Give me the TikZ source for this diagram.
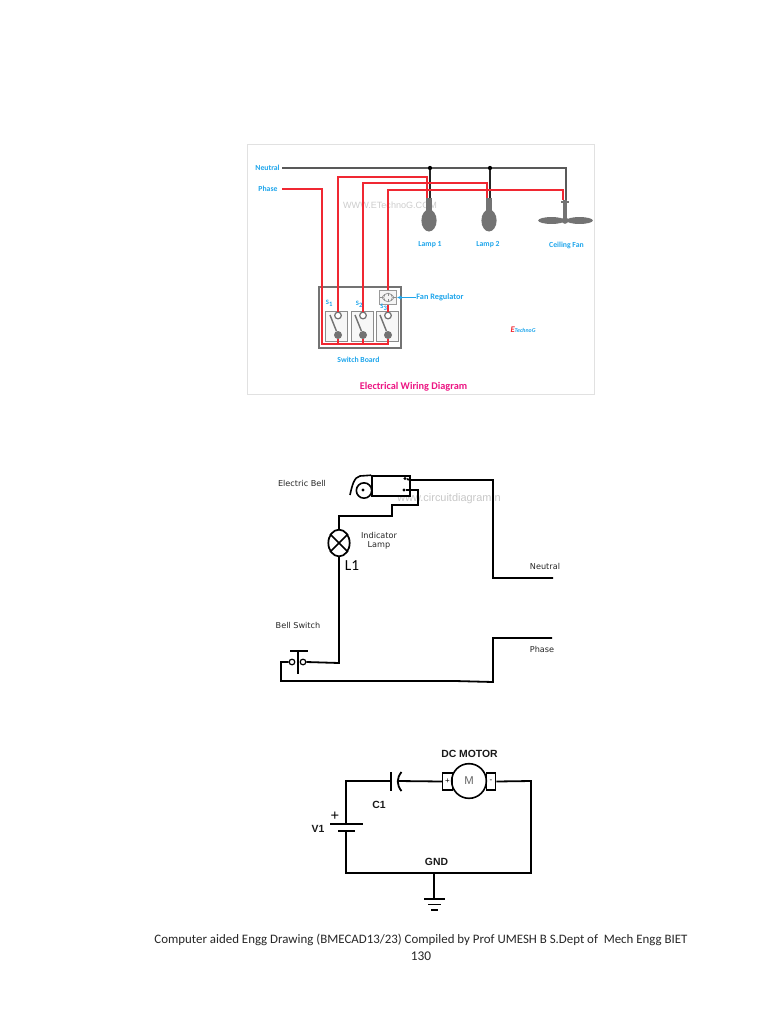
\documentclass[tikz,border=0pt]{standalone}
\usepackage{fontspec}
\setmainfont{Carlito}
\newfontfamily\arialfont{Liberation Sans}
\newfontfamily\dejafont{DejaVu Sans}
\usetikzlibrary{arrows.meta,shapes.geometric}
\definecolor{wirered}{RGB}{240,40,50}
\definecolor{tagblue}{RGB}{30,165,235}
\definecolor{bodygray}{RGB}{115,115,115}
\definecolor{titlepink}{RGB}{236,20,130}
\definecolor{framegray}{RGB}{225,225,225}
\tikzset{
  redwire/.style={draw=wirered,line width=1.05pt},
  blackwire/.style={draw=black!85,line width=1.3pt},
  thickwire/.style={draw=black,line width=1.35pt},
  tag/.style={text=tagblue,font=\fontsize{5.8}{6}\selectfont\bfseries,inner sep=0pt},
  subtag/.style={text=tagblue,font=\fontsize{5}{6}\selectfont\bfseries,inner sep=0pt},
  plain/.style={text=black!85,font=\dejafont\fontsize{6.1}{8}\selectfont,inner sep=0pt},
  motortext/.style={text=black!90,font=\arialfont\fontsize{7.8}{9}\selectfont\bfseries,inner sep=0pt},
  lampbody/.style={shape=ellipse,fill=bodygray,inner sep=0pt,minimum width=11.4pt,minimum height=16.5pt},
  bladebody/.style={shape=ellipse,fill=bodygray,inner sep=0pt,minimum width=20pt,minimum height=5.2pt},
  switchbox/.style={draw=black!45,fill=black!3,line width=0.7pt,minimum width=16pt,minimum height=22.5pt,inner sep=0pt},
  post/.style={circle,draw=bodygray,fill=white,line width=0.9pt,minimum size=5pt,inner sep=0pt},
  pivot/.style={circle,fill=bodygray,minimum size=6pt,inner sep=0pt},
  dotnode/.style={circle,fill=black,minimum size=3.2pt,inner sep=0pt},
  contact/.style={circle,draw=black,fill=white,line width=0.9pt,minimum size=4.2pt,inner sep=0pt},
  boxterm/.style={draw=black,line width=1pt,minimum width=7.2pt,minimum height=12.8pt,inner sep=0pt}
}
\begin{document}
\begin{tikzpicture}[x=0.75pt,y=-0.75pt]
\useasboundingbox (0,0) rectangle (768,1024);
% wiring diagram
\draw [framegray,line width=0.65pt] (247,144) rectangle (594,394);
\node [text=black!20,font=\arialfont\fontsize{6.8}{8}\selectfont,inner sep=0pt] (mark1) at (390,205) {WWW.ETechnoG.COM};
\node [tag] (neutraltag) at (267.5,168) {Neutral};
\node [tag] (phasetag) at (268,188.5) {Phase};
\coordinate (neutralin) at (282,168);
\coordinate (phasein) at (282,189);
\node [dotnode] (dot1) at (430,168) {};
\node [dotnode] (dot2) at (490,168) {};
% lamps and fan
\fill [bodygray] (426,198) rectangle (432,214);
\fill [bodygray] (486,198) rectangle (492,214);
\node [lampbody] (lamp1) at (429,220.5) {};
\node [lampbody] (lamp2) at (489,220.5) {};
\coordinate (lamp1n) at (430,198);
\coordinate (lamp2n) at (490,198);
\coordinate (lamp1p) at (427,198);
\coordinate (lamp2p) at (487,198);
\fill [bodygray] (563,200) rectangle (567,221);
\fill [bodygray] (561,200.5) rectangle (569,203);
\node [bladebody] (blade1) at (551.5,220.5) {};
\node [bladebody] (blade2) at (579.5,220.5) {};
\node [circle,fill=bodygray,minimum size=5pt,inner sep=0pt] (hub) at (565,220.5) {};
\coordinate (fann) at (566,200);
\coordinate (fanp) at (563,200);
\node [tag] (lamp1tag) at (430,245) {Lamp 1};
\node [tag] (lamp2tag) at (488,245) {Lamp 2};
\node [tag] (fantag) at (566.5,245) {Ceiling Fan};
% switch board
\draw [bodygray,line width=1.3pt,fill=white] (319,287) rectangle (401,348);
\node [switchbox] (box1) at (336.5,326) {};
\node [switchbox] (box2) at (362.5,326) {};
\node [switchbox] (box3) at (387.5,326) {};
\node [draw=black!40,fill=black!4,line width=0.9pt,minimum width=12.5pt,minimum height=10pt,inner sep=0pt] (regbox) at (388,297.5) {};
\node [circle,draw=black!45,line width=0.5pt,minimum size=6.5pt,inner sep=0pt] (regsun) at (388,297.5) {};
\foreach \a in {0,45,...,315}
  \draw [black!45,line width=0.4pt] (regsun.\a) -- ++(\a:3.5);
\foreach \n/\x in {1/338,2/363,3/388} {
  \node [post] (top\n) at (\x,315.5) {};
  \node [pivot] (piv\n) at (\x,335) {};
  \draw [bodygray,line width=1.1pt] (piv\n) -- (\x-8,315);
}
\node [subtag] (s1tag) at (329.5,303.5) {S\textsubscript{1}};
\node [subtag] (s2tag) at (359.5,304) {S\textsubscript{2}};
\node [subtag] (s3tag) at (384,307.5) {S\textsubscript{3}};
\node [tag,font=\fontsize{6.2}{7}\selectfont\bfseries] (regtag) at (440,297.5) {Fan Regulator};
\draw [draw=tagblue,line width=1pt,-{Latex[length=3.4pt,width=3.4pt]}] (regtag.west) -- (regbox.east);
\node [tag] (boardtag) at (358.5,360) {Switch Board};
\node [text=titlepink,font=\fontsize{7.7}{9}\selectfont\bfseries,inner sep=0pt] (walltitle) at (413.5,387) {Electrical Wiring Diagram};
\node [text=tagblue,font=\fontsize{4.4}{5}\selectfont\bfseries\itshape,inner sep=0pt] (brand) at (523,330) {\textcolor{wirered}{\fontsize{6.5}{6}\selectfont E}TechnoG};
% wires
\draw [blackwire,draw=black!65] (neutralin) -- (dot1) -- (dot2) -- (fann |- dot1) -- (fann);
\draw [blackwire] (dot1) -- (lamp1n);
\draw [blackwire] (dot2) -- (lamp2n);
\draw [redwire] (phasein) -- (322,189) -- (322,344) -- (388,344) -- (piv3);
\draw [redwire] (piv1) -- (338,344);
\draw [redwire] (piv2) -- (363,344);
\draw [redwire] (top1) -- (338,177) -| (lamp1p);
\draw [redwire] (top2) -- (363,183) -| (lamp2p);
\draw [redwire] (regbox.north) -- (388,190) -| (fanp);
\draw [redwire] (regbox.south) -- (top3);
% bell circuit
\node [text=black!22,font=\arialfont\fontsize{8.2}{9}\selectfont,inner sep=0pt] (mark2) at (449,499) {www.circuitdiagram.n};
\node [draw=black,line width=1.2pt,minimum width=28.5pt,minimum height=15pt,inner sep=0pt] (bellbox) at (391,486) {};
\node [shape=ellipse,draw=black,line width=1.2pt,minimum width=11.5pt,minimum height=11.5pt,inner sep=0pt] (gong) at (364,490.5) {};
\node [circle,fill=black,minimum size=2.5pt,inner sep=0pt] (gongdot) at (363,490) {};
\draw [thickwire,line width=1.2pt] (350,495) .. controls (352,486) and (354,477) .. (360,476) -- (bellbox.north west);
\node [circle,fill=black,minimum size=2.6pt,inner sep=0pt] (bellc1) at (405,478.5) {};
\node [circle,fill=black,minimum size=2.6pt,inner sep=0pt] (bellc2) at (404,490) {};
\node [shape=ellipse,draw=black,line width=1.3pt,minimum width=16pt,minimum height=20pt,inner sep=0pt] (lamp3) at (339,543) {};
\draw [thickwire,line width=1.2pt] (lamp3.45) -- (lamp3.225);
\draw [thickwire,line width=1.2pt] (lamp3.135) -- (lamp3.315);
\node [contact] (sw1) at (292,662) {};
\node [contact] (sw2) at (303,662) {};
\coordinate (plungertop) at (298,651);
\coordinate (plungerend) at (298,674);
\draw [thickwire] (plungertop) -- (plungerend);
\draw [thickwire] (290,651) -- (308,651);
\draw [thickwire] (bellc1) -- (410,480) -- (493,480) -- (493,578) -- (553,578);
\draw [thickwire] (bellc2) -- (418,490) -- (418,505) -- (392,505) -- (392,516) -- (339,516) -- (lamp3.north);
\draw [thickwire] (lamp3.south) -- (339,663) -- (sw2.east);
\draw [thickwire] (sw1.west) -- (281,662) -- (281,681) -- (455,681) -- (493,682) -- (493,638) -- (552,638);
\node [plain] (belltag) at (302,483) {Electric Bell};
\node [plain,align=center,font=\dejafont\fontsize{6.1}{6.8}\selectfont] (lamptag) at (379,540.5) {Indicator\\Lamp};
\node [text=black,font=\fontsize{11.5}{12}\selectfont,inner sep=0pt] (l1tag) at (352,566) {L1};
\node [plain] (swtag) at (298,625.5) {Bell Switch};
\node [plain] (neutraltag2) at (545,566.5) {Neutral};
\node [plain] (phasetag2) at (542,649.5) {Phase};
% motor circuit
\node [circle,draw=black,line width=1.2pt,fill=white,minimum size=26pt,inner sep=0pt,text=black!60,font=\arialfont\fontsize{8.5}{9}\selectfont] (motor) at (469,781) {M};
\node [boxterm,font=\arialfont\fontsize{6}{7}\selectfont] (termp) at (447.5,781.5) {+};
\node [boxterm,font=\arialfont\fontsize{6}{7}\selectfont] (termm) at (491,781.5) {-};
\coordinate (capa) at (391,781);
\coordinate (capb) at (398,781);
\coordinate (batt) at (346,824);
\coordinate (battb) at (346,831);
\coordinate (gndtop) at (434,873);
\coordinate (gndbot) at (434,899);
\draw [thickwire] (391,772) -- (391,791);
\draw [thickwire] (401.5,772) .. controls (396.5,778) and (396.5,785) .. (401.5,791);
\draw [thickwire] (termm.east) -- (531,781) -- (531,873) -- (gndtop) -- (346,873) -- (battb);
\draw [thickwire] (batt) -- (346,781) -- (capa);
\draw [thickwire] (capb) -- (termp.west);
\draw [thickwire] (330,824) -- (363,824);
\draw [thickwire] (338,831) -- (355,831);
\draw [thickwire] (gndtop) -- (gndbot);
\draw [thickwire] (424,899) -- (445,899);
\draw [thickwire] (428,904.5) -- (441,904.5);
\draw [thickwire] (431,910) -- (438,910);
\node [motortext] (motortag) at (469.5,754) {DC MOTOR};
\node [motortext] (c1tag) at (379,804.5) {C1};
\node [motortext] (v1tag) at (318,829) {V1};
\node [motortext] (gndtag) at (436.5,861.5) {GND};
\node [text=black,font=\arialfont\fontsize{11}{12}\selectfont,inner sep=0pt] (plustag) at (335,816) {+};
% page footer
\node [text=black!85,font=\fontsize{9.67}{12}\selectfont,inner sep=0pt] (footer) at (421,940) {Computer aided Engg Drawing (BMECAD13/23) Compiled by Prof UMESH B S.Dept of\ \ Mech Engg BIET};
\node [text=black!85,font=\fontsize{10}{12}\selectfont,inner sep=0pt] (pageno) at (421,956) {130};
\end{tikzpicture}
\end{document}
